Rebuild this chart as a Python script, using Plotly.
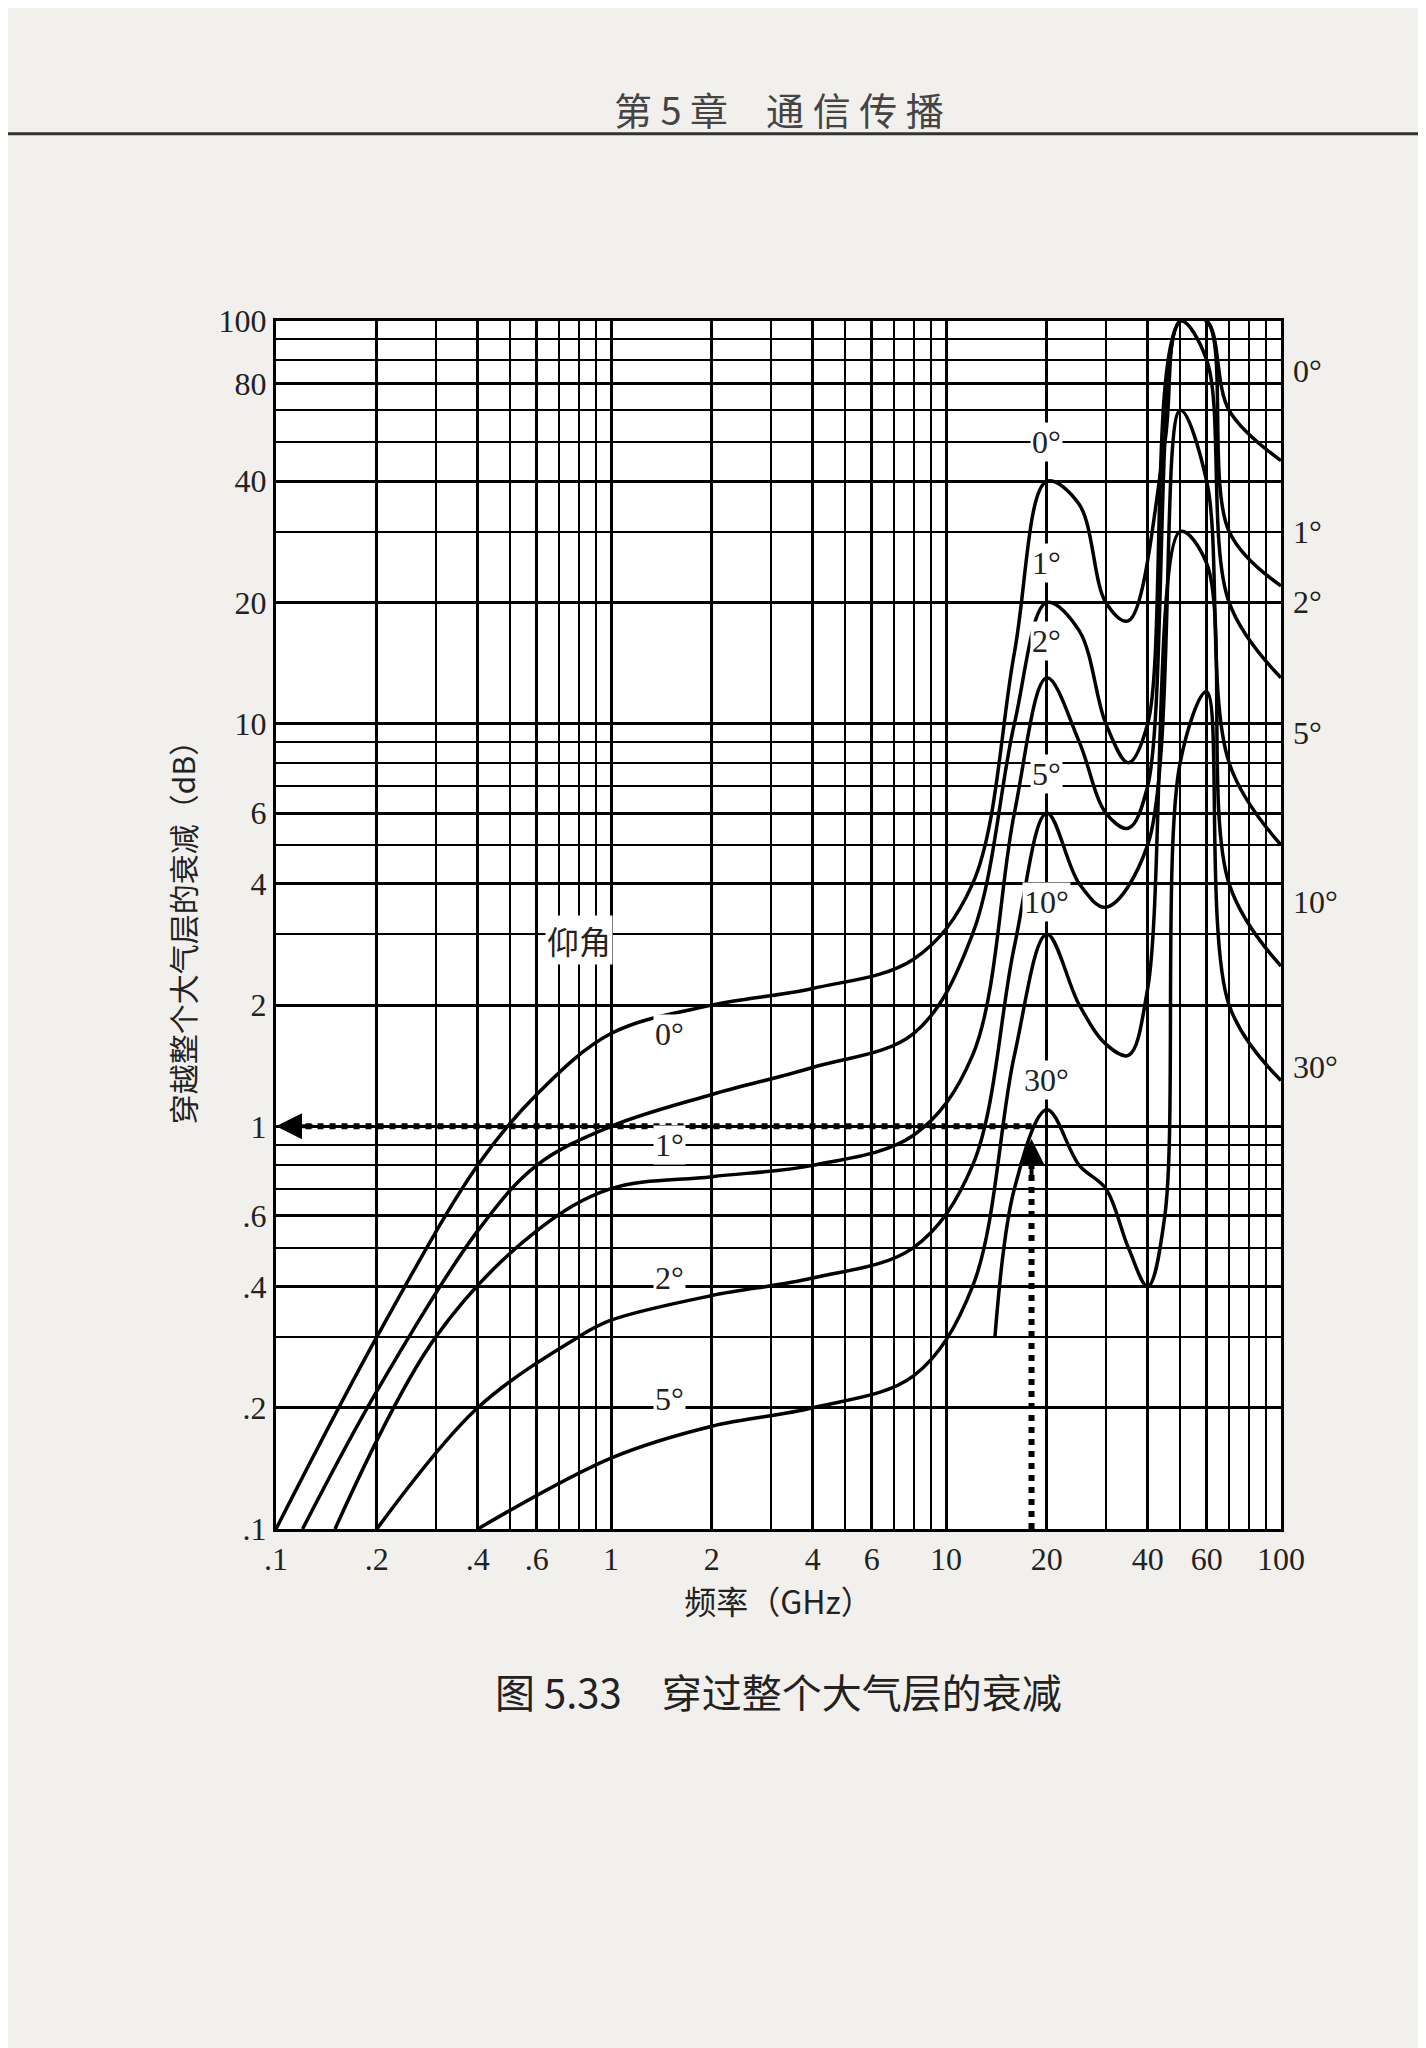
import math
import plotly.graph_objects as go

f0=[0.1,0.2,0.4,0.6,1,2,4,8,12,16,20,25,30,35,45,50,60,70,100]
a0=[0.1,0.3,0.8,1.2,1.7,2.0,2.2,2.6,4,15,40,35,20,18,50,100,100,60,45]
f1=[0.12,0.2,0.4,0.6,1,2,4,8,12,16,20,25,30,35,40,50,60,70,100]
a1=[0.1,0.22,0.55,0.8,1.0,1.2,1.4,1.7,3,10,20,17,10,8,10,100,100,30,22]
f2=[0.15,0.3,0.6,1,2,4,8,12,16,20,25,30,35,40,50,60,70,100]
a2=[0.1,0.3,0.55,0.7,0.75,0.8,0.95,1.5,6,13,9,6,5.5,7,100,80,20,13]
f5=[0.2,0.4,0.8,1,2,4,8,12,16,20,25,30,40,50,60,70,100]
a5=[0.1,0.2,0.3,0.33,0.38,0.42,0.5,0.8,2.8,6,4,3.5,5,60,40,8,5]
f10=[0.4,1,2,4,8,12,16,20,25,30,35,40,50,60,70,100]
a10=[0.1,0.15,0.18,0.2,0.24,0.4,1.5,3,2,1.6,1.5,2.2,30,25,4,2.5]
f30=[14,16,20,25,30,35,40,45,50,60,70,100]
a30=[0.3,0.7,1.1,0.8,0.7,0.5,0.4,0.6,8,12,2,1.3]
curves=[("0°",f0,a0),("1°",f1,a1),("2°",f2,a2),("5°",f5,a5),("10°",f10,a10),("30°",f30,a30)]
right_y=[75,30,20,9.5,3.6,1.4]
mid_lbl=[(20,50),(20,25),(20,16),(20,7.5),(20,3.6),(20,1.3)]
low_lbl=[(1.5,1.7),(1.5,0.9),(1.5,0.42),(1.5,0.21)]
xt=[0.1,0.2,0.4,0.6,1,2,4,6,10,20,40,60,100]
xtl=[".1",".2",".4",".6","1","2","4","6","10","20","40","60","100"]
yt=[0.1,0.2,0.4,0.6,1,2,4,6,10,20,40,70,100]
ytl=[".1",".2",".4",".6","1","2","4","6","10","20","40","80","100"]
arrow_f=18; arrow_a=1
L=math.log10

fig=go.Figure()
for n,f,a in curves:
    fig.add_trace(go.Scatter(x=f,y=a,mode="lines",line=dict(color="black",width=3.5,shape="spline"),showlegend=False))
fig.add_trace(go.Scatter(x=[arrow_f,0.11],y=[arrow_a,arrow_a],mode="lines",line=dict(color="black",width=6,dash="dot"),showlegend=False))
fig.add_trace(go.Scatter(x=[arrow_f,arrow_f],y=[0.1,0.88],mode="lines",line=dict(color="black",width=6,dash="dot"),showlegend=False))
fig.add_annotation(x=L(0.1),y=L(arrow_a),ax=L(0.13),ay=L(arrow_a),xref="x",yref="y",axref="x",ayref="y",showarrow=True,arrowhead=2,arrowsize=1.3,arrowwidth=4,arrowcolor="black",text="")
fig.add_annotation(x=L(arrow_f),y=L(0.93),ax=L(arrow_f),ay=L(0.75),xref="x",yref="y",axref="x",ayref="y",showarrow=True,arrowhead=2,arrowsize=1.3,arrowwidth=4,arrowcolor="black",text="")
font=dict(family="Liberation Serif",size=32,color="#222")
cjk=dict(family="Noto Sans CJK SC",size=32,color="#222")
for (n,f,a),ry,(mx,my) in zip(curves,right_y,mid_lbl):
    fig.add_annotation(x=1.01,y=L(ry),xref="paper",yref="y",text=n,showarrow=False,xanchor="left",font=font,bgcolor="#f2f0ec")
    fig.add_annotation(x=L(mx),y=L(my),text=n,showarrow=False,font=font,bgcolor="white")
for (n,f,a),(lx,ly) in zip(curves[:4],low_lbl):
    fig.add_annotation(x=L(lx),y=L(ly),text=n,showarrow=False,font=font,bgcolor="white")
fig.add_annotation(x=L(0.8),y=L(2.9),text="仰角",showarrow=False,font=cjk,bgcolor="white")
fig.add_annotation(x=0.5,y=1.2,xref="paper",yref="paper",text="第 5 章　通 信 传 播",showarrow=False,font=dict(family="Noto Sans CJK SC",size=38,color="#444"))
fig.add_annotation(x=0.5,y=-0.16,xref="paper",yref="paper",text="图 5.33　穿过整个大气层的衰减",showarrow=False,font=dict(family="Noto Sans CJK SC",size=40,color="#222"))
fig.add_shape(type="line",xref="paper",yref="paper",x0=-0.3,x1=1.2,y0=1.155,y1=1.155,line=dict(color="#333",width=3))
fig.update_xaxes(type="log",range=[-1,2],tickvals=xt,ticktext=xtl,showgrid=True,gridcolor="black",gridwidth=3,
    minor=dict(showgrid=True,gridcolor="black",gridwidth=2,dtick="D1"),tickfont=font,
    title=dict(text="频率（GHz）",font=cjk),showline=True,linecolor="black",linewidth=3,mirror=True)
fig.update_yaxes(type="log",range=[-1,2],tickvals=yt,ticktext=ytl,showgrid=True,gridcolor="black",gridwidth=3,
    minor=dict(showgrid=True,gridcolor="black",gridwidth=2,dtick="D1"),tickfont=font,
    title=dict(text="穿越整个大气层的衰减（dB）",font=dict(family="Noto Sans CJK SC",size=30,color="#222")),showline=True,linecolor="black",linewidth=3,mirror=True)
fig.update_layout(width=1426,height=2048,plot_bgcolor="white",paper_bgcolor="#f2f0ec",
    margin=dict(l=268,r=153,t=313,b=527),showlegend=False)
fig.write_html("out.html")
